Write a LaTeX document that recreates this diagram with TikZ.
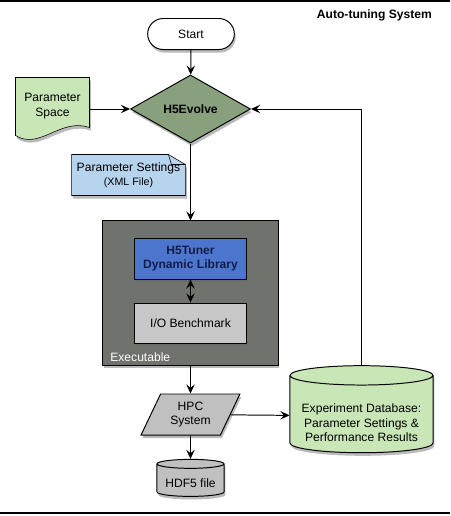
\documentclass[tikz,border=0pt]{standalone}
\usepackage{fontspec}
\setmainfont{Liberation Sans}
\usetikzlibrary{arrows.meta, shapes.geometric, shapes.misc, shadows, backgrounds, positioning}

\definecolor{evolvegreen}{RGB}{136,160,124}
\definecolor{palegreen}{RGB}{200,230,182}
\definecolor{paleblue}{RGB}{182,212,238}
\definecolor{exegray}{RGB}{112,114,110}
\definecolor{tunerblue}{RGB}{76,118,206}
\definecolor{tunernavy}{RGB}{18,28,74}
\definecolor{benchgray}{RGB}{200,200,200}
\definecolor{hpcgray}{RGB}{192,192,192}

\begin{document}
\begin{tikzpicture}[x=0.025cm, y=-0.025cm, >={Stealth[length=6.5pt, width=6pt, inset=2.5pt]}, line width=0.7pt,
  font=\fontsize{8.6}{10.3}\selectfont,
  dropsh/.style={drop shadow={shadow xshift=1pt, shadow yshift=-2.2pt, fill=black!60, opacity=.45}},
  block/.style={rectangle, draw, dropsh, align=center},
  terminal/.style={rounded rectangle, draw, fill=white, dropsh, minimum width=2.4cm, minimum height=0.775cm},
  decision/.style={diamond, draw, fill=evolvegreen, dropsh, aspect=1.76, inner sep=0pt, minimum width=3cm, minimum height=1.7cm},
  io/.style={trapezium, trapezium left angle=65, trapezium right angle=115, trapezium stretches=true, draw, fill=hpcgray, dropsh, align=center, minimum width=2.475cm, minimum height=1.025cm},
  store/.style={cylinder, shape border rotate=90, aspect=0.15, draw, dropsh, align=center}]

\useasboundingbox (0,0) rectangle (450,516);
\draw[line width=1.8pt] (0,1.2) -- (450,1.2);
\draw[line width=1.8pt] (0,513) -- (450,513);

\node[anchor=east, font=\fontsize{8.6}{10.3}\selectfont\bfseries] (title) at (437,15) {Auto-tuning System};

% define the blocks of the flow
  \node[terminal] (start) at (191,34) {Start};
  \node[decision, font=\fontsize{8.6}{10.3}\selectfont\bfseries] (evolve) at (190.5,109) {H5Evolve};
  \node[align=center, minimum width=1.825cm, minimum height=1.4cm] (space) at (52.5,106) {Parameter\\Space};
  \node[align=center, minimum width=2.775cm, minimum height=1cm] (settings) at (128.5,175)
{Parameter Settings\\{\fontsize{7.6}{9}\selectfont (XML File)}};

  \node[block, fill=exegray, minimum width=4.375cm, minimum height=3.6cm] (exe) at (190.5,293) {};
  \node[block, fill=tunerblue, text=tunernavy, font=\fontsize{8.6}{10.3}\selectfont\bfseries,
        minimum width=2.775cm, minimum height=1.025cm] (tuner) at (190.5,258.5) {H5Tuner\\Dynamic Library};
  \node[block, fill=benchgray, minimum width=2.775cm, minimum height=1cm] (bench) [below=0.575cm of tuner] {I/O Benchmark};
  \node[anchor=south west, inner sep=1pt, text=white] (exelabel) at ([xshift=0.15cm, yshift=0.05cm]exe.south west) {Executable};

  \node[io] (hpc) at (190.5,414.5) {HPC\\System};
  \node[store, fill=palegreen, minimum width=3.575cm, minimum height=1.7cm] (db) at (361.5,416)
{\rule{0pt}{16pt}Experiment Database:\\Parameter Settings \&\\Performance Results};
  \node[store, fill=hpcgray, minimum width=1.675cm, minimum height=0.925cm] (hdf) at (190.5,481.5) {\rule{0pt}{9pt}HDF5 file};

% paper shapes behind the texts
\begin{scope}[on background layer]
  \filldraw[fill=palegreen, dropsh] (space.north west) -- (space.north east)
    -- ([yshift=0.175cm]space.south east)
    .. controls ([xshift=-0.725cm, yshift=0.425cm]space.south east) and ([xshift=0.6cm, yshift=-0.4cm]space.south west)
    .. ([yshift=-0.025cm]space.south west) -- cycle;
  \filldraw[fill=paleblue, dropsh] (settings.north west) -- ([xshift=-0.425cm]settings.north east)
    -- ([yshift=-0.25cm]settings.north east) -- (settings.south east) -- (settings.south west) -- cycle;
  \draw ([xshift=-0.425cm]settings.north east) -- ([xshift=-0.35cm, yshift=-0.25cm]settings.north east)
    -- ([yshift=-0.25cm]settings.north east);
\end{scope}

% define the links
  \path[->] (start) edge (evolve)
            (space.east |- evolve.west) edge (evolve.west)
            (evolve.south) edge (exe.north)
            (tuner) edge [<->] (bench)
            (exe) edge (hpc)
            (hpc) edge (hdf)
            (hpc) edge (db);
  \draw[->] (db.north) |- (evolve.east);

\end{tikzpicture}
\end{document}
